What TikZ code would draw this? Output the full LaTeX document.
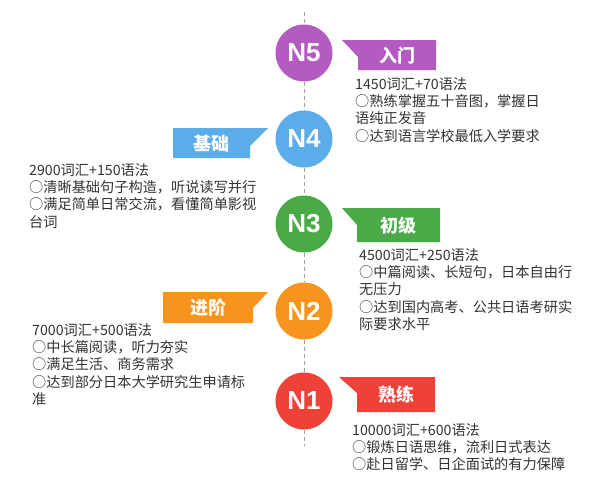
\documentclass[tikz,border=0pt]{standalone}
\usepackage{fontspec}
\setmainfont{Noto Sans CJK SC}
\newfontfamily\labfont{Liberation Sans}
\definecolor{cN5}{HTML}{B35BC1}
\definecolor{cN4}{HTML}{5AADE9}
\definecolor{cN3}{HTML}{4BAA48}
\definecolor{cN2}{HTML}{F7941D}
\definecolor{cN1}{HTML}{EE4137}
\definecolor{dash}{HTML}{A0A0A0}
\definecolor{txt}{HTML}{333333}
\begin{document}
\begin{tikzpicture}[x=1pt,y=-1pt,
  lvl/.style={circle,minimum size=57pt,inner sep=0pt,text=white,font=\labfont\bfseries\fontsize{26}{26}\selectfont},
  bantext/.style={text=white,font=\bfseries\fontsize{18}{18}\selectfont,inner sep=0pt},
  desc/.style={anchor=north west,align=left,inner sep=0pt,text=txt,font=\fontsize{14.2}{17.4}\selectfont},
  link/.style={draw=dash,line width=0.8pt,dash pattern=on 4pt off 3pt}]
\useasboundingbox (0,0) rectangle (600,498);
\fill[white] (0,0) rectangle (600,498);
% central dashed line
\coordinate (top) at (304,12);
\coordinate (bot) at (304,446);
\node[lvl,fill=cN5] (n5) at (304,53) {N5};
\node[lvl,fill=cN4] (n4) at (304,139) {N4};
\node[lvl,fill=cN3] (n3) at (304,224) {N3};
\node[lvl,fill=cN2] (n2) at (304,311) {N2};
\node[lvl,fill=cN1] (n1) at (304,401) {N1};
\draw[link] (top) -- (n5);
\draw[link] (n5) -- (n4);
\draw[link] (n4) -- (n3);
\draw[link] (n3) -- (n2);
\draw[link] (n2) -- (n1);
\draw[link] (n1) -- (bot);
% banners right
\fill[cN5] (342,40) -- (436,40) -- (436,70) -- (358,70) -- (358,57) -- cycle;
\node[bantext] (b5) at (397,55.5) {入门};
\fill[cN3] (342,208) -- (440,208) -- (440,242) -- (357,242) -- (357,225) -- cycle;
\node[bantext] (b3) at (398.5,225.5) {初级};
\fill[cN1] (339,377) -- (435,377) -- (435,412) -- (357,412) -- (357,393) -- cycle;
\node[bantext] (b1) at (396,395) {熟练};
% banners left
\fill[cN4] (268,128) -- (173,128) -- (173,158) -- (250,158) -- (250,146) -- cycle;
\node[bantext] (b4) at (211.5,143.5) {基础};
\fill[cN2] (268,292) -- (163,292) -- (163,323) -- (253,323) -- (253,308) -- cycle;
\node[bantext] (b2) at (208,307.5) {进阶};
% descriptions
\node[desc] (d5) at (355,77) {1450词汇+70语法\\○熟练掌握五十音图，掌握日\\语纯正发音\\○达到语言学校最低入学要求};
\node[desc] (d4) at (29,163) {2900词汇+150语法\\○清晰基础句子构造，听说读写并行\\○满足简单日常交流，看懂简单影视\\台词};
\node[desc] (d3) at (359,248) {4500词汇+250语法\\○中篇阅读、长短句，日本自由行\\无压力\\○达到国内高考、公共日语考研实\\际要求水平};
\node[desc] (d2) at (32,323) {7000词汇+500语法\\○中长篇阅读，听力夯实\\○满足生活、商务需求\\○达到部分日本大学研究生申请标\\准};
\node[desc] (d1) at (352,423) {10000词汇+600语法\\○锻炼日语思维，流利日式表达\\○赴日留学、日企面试的有力保障};
\end{tikzpicture}
\end{document}
